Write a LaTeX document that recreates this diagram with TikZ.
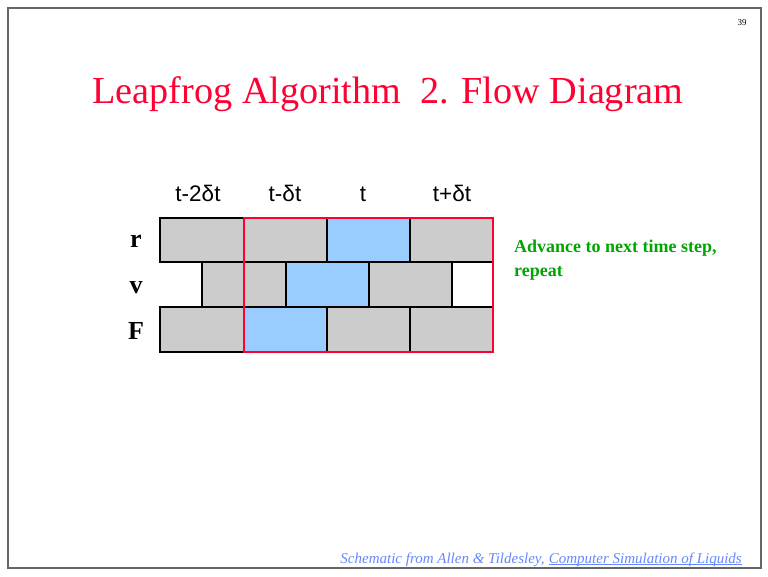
\documentclass[tikz,border=0pt]{standalone}
\usepackage{fontspec}
\setmainfont{Liberation Serif}
\newfontfamily\arialf{Liberation Sans}
\definecolor{titlered}{HTML}{FF0033}
\definecolor{cellgray}{HTML}{CCCCCC}
\definecolor{cellblue}{HTML}{99CCFF}
\definecolor{notegreen}{HTML}{00A600}
\definecolor{footblue}{HTML}{6688FF}
\definecolor{framegray}{HTML}{666666}
\tikzset{
  graycell/.style={fill=cellgray, draw=black, line width=1.2pt},
  bluecell/.style={fill=cellblue, draw=black, line width=1.2pt},
  redframe/.style={draw=titlered, line width=1.2pt},
  hdr/.style={anchor=base, inner sep=0pt, font=\arialf\fontsize{22.5}{22.5}\selectfont},
  rowlab/.style={anchor=base, inner sep=0pt, font=\bfseries\fontsize{26}{26}\selectfont},
  note/.style={anchor=base west, inner sep=0pt, text=notegreen, font=\bfseries\fontsize{18}{18}\selectfont},
  foot/.style={inner sep=0pt, text=footblue, font=\itshape\fontsize{15}{15}\selectfont}
}
\begin{document}
\begin{tikzpicture}[x=1pt,y=-1pt]
\useasboundingbox (0,0) rectangle (768,576);
\fill[white] (0,0) rectangle (768,576);
\draw[framegray, line width=2pt] (8,8) rectangle (761,568);
% page number
\node[anchor=base, inner sep=0pt, font=\fontsize{9}{9}\selectfont] (pg) at (742,25) {39};
% title
\node[anchor=base, inner sep=0pt, text=titlered, font=\fontsize{38.2}{38.2}\selectfont] (title) at (388,103) {Leapfrog Algorithm\ \ 2. Flow Diagram};
% headers
\node[hdr] (h1) at (198,201.5) {t-2δt};
\node[hdr] (h2) at (285,201.5) {t-δt};
\node[hdr] (h3) at (363,201.5) {t};
\node[hdr] (h4) at (452,201.5) {t+δt};
% row labels
\node[rowlab] (lr) at (136,247.5) {r};
\node[rowlab] (lv) at (136,293.5) {v};
\node[rowlab] (lF) at (136,339) {F};
% r row
\draw[graycell] (160,218) rectangle (244,262);
\draw[graycell] (244,218) rectangle (327,262);
\draw[bluecell] (327,218) rectangle (410,262);
\draw[graycell] (410,218) rectangle (493,262);
% v row
\draw[graycell] (202,262) rectangle (286,307);
\draw[bluecell] (286,262) rectangle (369,307);
\draw[graycell] (369,262) rectangle (452,307);
% F row
\draw[graycell] (160,307) rectangle (244,352);
\draw[bluecell] (244,307) rectangle (327,352);
\draw[graycell] (327,307) rectangle (410,352);
\draw[graycell] (410,307) rectangle (493,352);
% red frame
\draw[redframe] (244,218) rectangle (493,352);
% note
\node[note] (n1) at (514,252) {Advance to next time step,};
\node[note] (n2) at (514,276) {repeat};
% footer
\node[foot, anchor=base east] (foot2) at (742,563) {Computer Simulation of Liquids};
\node[foot, anchor=base east] (foot1) at ([xshift=-4pt]foot2.base west) {Schematic from Allen \& Tildesley,};
\draw[footblue, line width=0.8pt] ([yshift=-1.8pt]foot2.base west) -- ([yshift=-1.8pt]foot2.base east);
\end{tikzpicture}
\end{document}
